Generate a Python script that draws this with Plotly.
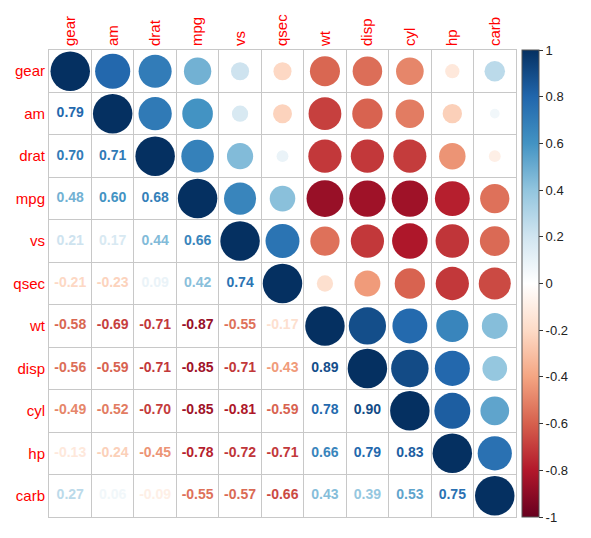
import numpy as np
import plotly.graph_objects as go

# variables in hclust order (mtcars)
variables = ['gear', 'am', 'drat', 'mpg', 'vs', 'qsec', 'wt', 'disp', 'cyl', 'hp', 'carb']

# lower triangle of the correlation matrix, row by row
lower = [
    [],
    [0.79],
    [0.70, 0.71],
    [0.48, 0.60, 0.68],
    [0.21, 0.17, 0.44, 0.66],
    [-0.21, -0.23, 0.09, 0.42, 0.74],
    [-0.58, -0.69, -0.71, -0.87, -0.55, -0.17],
    [-0.56, -0.59, -0.71, -0.85, -0.71, -0.43, 0.89],
    [-0.49, -0.52, -0.70, -0.85, -0.81, -0.59, 0.78, 0.90],
    [-0.13, -0.24, -0.45, -0.78, -0.72, -0.71, 0.66, 0.79, 0.83],
    [0.27, 0.06, -0.09, -0.55, -0.57, -0.66, 0.43, 0.39, 0.53, 0.75],
]

cbar_ticks = [-1, -0.8, -0.6, -0.4, -0.2, 0, 0.2, 0.4, 0.6, 0.8, 1]

# corrplot RdBu palette
palette = ['#67001F', '#B2182B', '#D6604D', '#F4A582', '#FDDBC7', '#FFFFFF',
           '#D1E5F0', '#92C5DE', '#4393C3', '#2166AC', '#053061']

n = len(variables)
corr = np.eye(n)
for i, row in enumerate(lower):
    for j, v in enumerate(row):
        corr[i, j] = v
        corr[j, i] = v


def hex_rgb(h):
    return [int(h[k:k + 2], 16) for k in (1, 3, 5)]


pal_rgb = np.array([hex_rgb(c) for c in palette], dtype=float)


def value_color(v):
    t = (v + 1) / 2 * (len(palette) - 1)
    k = min(int(np.floor(t)), len(palette) - 2)
    f = t - k
    c = pal_rgb[k] * (1 - f) + pal_rgb[k + 1] * f
    return 'rgb(%d,%d,%d)' % tuple(np.round(c))


colorscale = [[k / (len(palette) - 1), c] for k, c in enumerate(palette)]

# plot geometry (px); the page body adds an 8px offset
L, R, T, B = 41, 75, 42, 21
W, H = 583, 530
cell = (W - L - R) / n

cx, cy, csize, ccol = [], [], [], []
tx, ty, ttext, tcol = [], [], [], []
for i in range(n):
    for j in range(n):
        v = corr[i, j]
        if j >= i:
            cx.append(j)
            cy.append(i)
            csize.append(0.93 * np.sqrt(abs(v)) * cell)
            ccol.append(value_color(v))
        else:
            tx.append(j)
            ty.append(i)
            ttext.append('%.2f' % v)
            tcol.append(value_color(v))

fig = go.Figure()

fig.add_trace(go.Scatter(
    x=cx, y=cy, mode='markers',
    marker=dict(size=csize, color=ccol, opacity=1, line=dict(width=0)),
    hoverinfo='skip', showlegend=False
))

fig.add_trace(go.Scatter(
    x=tx, y=ty, mode='text', text=ttext,
    textfont=dict(family='Liberation Sans', size=14, color=tcol, weight='bold'),
    hoverinfo='skip', showlegend=False
))

# colorbar holder
fig.add_trace(go.Scatter(
    x=[None], y=[None], mode='markers',
    marker=dict(
        color=[0], cmin=-1, cmax=1, colorscale=colorscale, showscale=True,
        colorbar=dict(
            x=1 + 6 / (W - L - R), xanchor='left', xref='paper',
            y=0.5, yanchor='middle', len=1, lenmode='fraction',
            thickness=17, thicknessmode='pixels',
            outlinecolor='#555555', outlinewidth=1,
            ticks='outside', ticklen=4, tickcolor='#333333',
            tickvals=cbar_ticks, ticktext=['%g' % t for t in cbar_ticks],
            tickfont=dict(family='Liberation Sans', size=13, color='#222222'),
            xpad=0, ypad=0,
        ),
    ),
    hoverinfo='skip', showlegend=False
))

bounds = [k - 0.5 for k in range(n + 1)]

fig.update_layout(
    width=W, height=H,
    margin=dict(l=L, r=R, t=T, b=B, autoexpand=False),
    plot_bgcolor='white', paper_bgcolor='white',
    xaxis=dict(
        range=[-0.5, n - 0.5], side='top', tickvals=list(range(n)), ticktext=variables,
        tickangle=-90, showgrid=False, zeroline=False, ticks='', automargin=False,
        tickfont=dict(family='Liberation Sans', size=15, color='#FF0000'),
        showline=True, mirror=True, linecolor='#C8C8C8', linewidth=1,
        minor=dict(tickvals=bounds, showgrid=True, gridcolor='#C8C8C8', gridwidth=1),
        fixedrange=True,
    ),
    yaxis=dict(
        range=[n - 0.5, -0.5], tickvals=list(range(n)), ticktext=variables,
        showgrid=False, zeroline=False, ticks='', automargin=False,
        tickfont=dict(family='Liberation Sans', size=15, color='#FF0000'),
        showline=True, mirror=True, linecolor='#C8C8C8', linewidth=1,
        minor=dict(tickvals=bounds, showgrid=True, gridcolor='#C8C8C8', gridwidth=1),
        fixedrange=True,
    ),
)

fig.write_html('out.html')
